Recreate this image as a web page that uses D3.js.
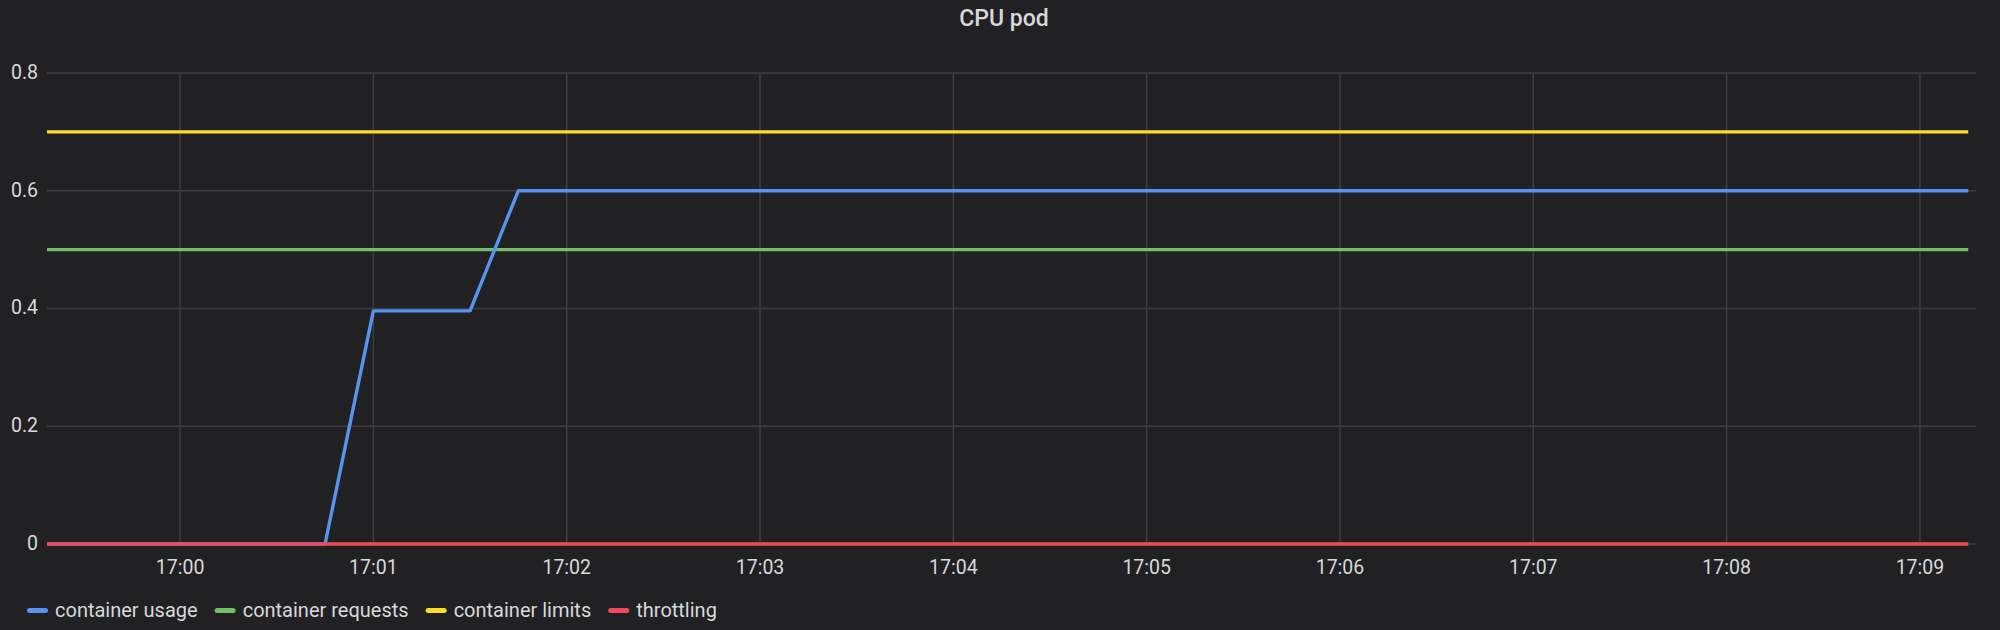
<!DOCTYPE html>
<html>
<head>
<meta charset="utf-8">
<script src="https://cdn.jsdelivr.net/npm/d3@7"></script>
<style>
  body { margin: 0; background: #212124; }
  svg { display: block; }
  text { font-family: Roboto, "Noto Sans", sans-serif; }
</style>
</head>
<body>
<div id="chart"></div>
<script>
// values (15s scrape interval)
var usageTimes  = ["16:59:15", "17:00:45", "17:01:00", "17:01:30", "17:01:45", "17:09:15"];
var usageValues = [0, 0, 0.396, 0.396, 0.6, 0.6];
var requestsTimes  = ["16:59:15", "17:09:15"];
var requestsValues = [0.5, 0.5];
var limitsTimes  = ["16:59:15", "17:09:15"];
var limitsValues = [0.7, 0.7];
var throttlingTimes  = ["16:59:15", "17:09:15"];
var throttlingValues = [0, 0];

var seriesNames  = ["container usage", "container requests", "container limits", "throttling"];
var seriesColors = ["#5794F2", "#73BF69", "#FADE2A", "#F2495C"];

var yTicks = [0, 0.2, 0.4, 0.6, 0.8];
var xTickLabels = ["17:00", "17:01", "17:02", "17:03", "17:04", "17:05", "17:06", "17:07", "17:08", "17:09"];

var width = 2000;
var height = 630;
var margin = {left: 47, right: 24, top: 73, bottom: 86};

var parseT = d3.timeParse("%H:%M:%S");
var parseM = d3.timeParse("%H:%M");

var svg = d3.select("#chart")
    .append("svg")
    .attr("width", width)
    .attr("height", height);

svg.append("rect").attr("width", width).attr("height", height).attr("fill", "#212124");

// title
svg.append("text")
    .attr("x", width / 2 + 4)
    .attr("y", 26)
    .attr("text-anchor", "middle")
    .attr("fill", "#d8d9da")
    .style("font-size", "23px")
    .style("font-weight", 500)
    .text("CPU pod");

// visible range is roughly 16:59:19 .. 17:09:17
var x = d3.scaleTime()
    .domain([parseT("16:59:19").getTime() - 300, parseT("17:09:17").getTime() + 400])
    .range([margin.left, width - margin.right]);

var y = d3.scaleLinear()
    .domain([0, 0.8])
    .range([height - margin.bottom, margin.top]);

// grid
var grid = svg.append("g").attr("stroke", "#3e3e42").attr("stroke-width", 1.5);
grid.selectAll("line.h")
    .data(yTicks)
    .enter()
    .append("line")
    .attr("x1", margin.left)
    .attr("x2", width - margin.right)
    .attr("y1", function(d) { return y(d); })
    .attr("y2", function(d) { return y(d); });
grid.selectAll("line.v")
    .data(xTickLabels)
    .enter()
    .append("line")
    .attr("x1", function(d) { return x(parseM(d)); })
    .attr("x2", function(d) { return x(parseM(d)); })
    .attr("y1", y(0.8))
    .attr("y2", y(0));

// y axis labels
svg.selectAll("text.ylab")
    .data(yTicks)
    .enter()
    .append("text")
    .attr("class", "ylab")
    .attr("x", 38)
    .attr("y", function(d) { return y(d); })
    .attr("dy", "0.3em")
    .attr("text-anchor", "end")
    .attr("fill", "#d8d9da")
    .style("font-size", "19.5px")
    .text(function(d) { return d === 0 ? "0" : d3.format(".1f")(d); });

// x axis labels
svg.selectAll("text.xlab")
    .data(xTickLabels)
    .enter()
    .append("text")
    .attr("class", "xlab")
    .attr("x", function(d) { return x(parseM(d)); })
    .attr("y", 574)
    .attr("text-anchor", "middle")
    .attr("fill", "#d8d9da")
    .style("font-size", "19.5px")
    .text(function(d) { return d; });

// lines
svg.append("clipPath").attr("id", "plotclip")
    .append("rect")
    .attr("x", margin.left)
    .attr("y", 0)
    .attr("width", width - margin.right - margin.left)
    .attr("height", height);

var series = [
    [usageTimes, usageValues],
    [requestsTimes, requestsValues],
    [limitsTimes, limitsValues],
    [throttlingTimes, throttlingValues]
];

var line = d3.line()
    .x(function(d) { return x(d[0]); })
    .y(function(d) { return y(d[1]); });

var order = [1, 2, 0, 3];
var lines = svg.append("g").attr("clip-path", "url(#plotclip)");
order.forEach(function(i) {
    var pts = series[i][0].map(function(t, j) { return [parseT(t), series[i][1][j]]; });
    lines.append("path")
        .datum(pts)
        .attr("fill", "none")
        .attr("stroke", seriesColors[i])
        .attr("stroke-width", 3.4)
        .attr("stroke-linejoin", "round")
        .attr("d", line);
});

// legend
var legend = svg.append("g");
var lx = 27;
seriesNames.forEach(function(name, i) {
    legend.append("rect")
        .attr("x", lx)
        .attr("y", 608)
        .attr("width", 21)
        .attr("height", 5)
        .attr("rx", 2.5)
        .attr("fill", seriesColors[i]);
    var t = legend.append("text")
        .attr("x", lx + 28)
        .attr("y", 617)
        .attr("fill", "#d8d9da")
        .style("font-size", "20px")
        .text(name);
    lx = lx + 28 + t.node().getComputedTextLength() + 17;
});
</script>
</body>
</html>
